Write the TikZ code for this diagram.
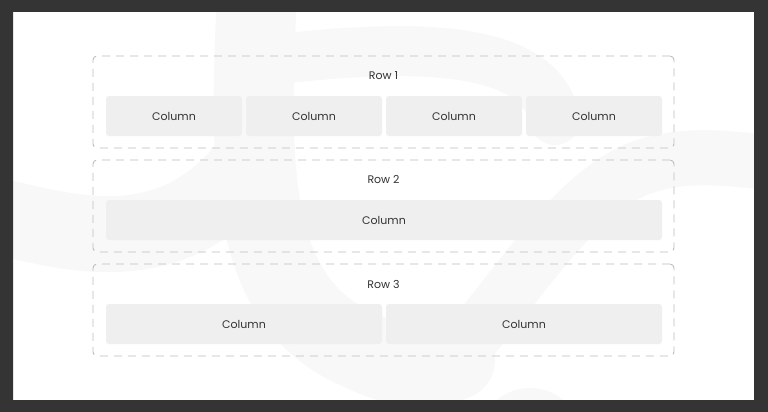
\documentclass[tikz,border=0pt]{standalone}
\usepackage{fontspec}
\setmainfont{Poppins}
\definecolor{framegray}{HTML}{343434}
\definecolor{swirlgray}{HTML}{F8F8F8}
\definecolor{dashgray}{HTML}{BDBDBD}
\definecolor{colgray}{HTML}{EFEFEF}
\definecolor{textgray}{HTML}{333333}
\tikzset{
  swirl/.style={draw=swirlgray, line cap=round},
  rowbox/.style={draw=dashgray, line width=0.9pt, dash pattern=on 8pt off 6pt,
    rounded corners=4pt, inner sep=0pt, minimum width=581pt, minimum height=92pt},
  colbox/.style={fill=colgray, rounded corners=3pt, inner sep=0pt, minimum height=40pt,
    text=textgray, font=\fontsize{11}{13}\selectfont},
  rowlabel/.style={text=textgray, font=\fontsize{11}{13}\selectfont, inner sep=1pt}
}
\begin{document}
\begin{tikzpicture}[x=1pt,y=-1pt]
\useasboundingbox (0,0) rectangle (768,412);
\fill[white] (0,0) rectangle (768,412);
% faint background swirls
\draw[swirl, line width=80pt] (258,-30) .. controls (250,150) and (240,300) .. (360,350)
     .. controls (400,370) and (430,370) .. (455,360);
\draw[swirl, line width=55pt] (440,370) .. controls (500,320) and (560,200) .. (640,168)
     .. controls (690,150) and (740,160) .. (790,165);
\draw[swirl, line width=50pt] (270,60) .. controls (400,45) and (540,40) .. (555,120);
\draw[swirl, line width=76pt] (-20,212) .. controls (60,230) and (170,270) .. (252,160);
\fill[swirlgray] (530,440) circle (52pt);
% dark frame
\fill[framegray, even odd rule] (0,0) rectangle (768,412) (13,12) rectangle (754,400);

% rows
\node[rowbox] (row1) at (383.5,102) {};
\node[rowbox] (row2) at (383.5,206) {};
\node[rowbox] (row3) at (383.5,310) {};
\node[rowlabel] (row1label) at (383.5,76) {Row 1};
\node[rowlabel] (row2label) at (383.5,180) {Row 2};
\node[rowlabel] (row3label) at (383.5,284) {Row 3};

% columns row 1
\node[colbox, minimum width=136pt] (c11) at (174,116) {Column};
\node[colbox, minimum width=136pt] (c12) at (314,116) {Column};
\node[colbox, minimum width=136pt] (c13) at (454,116) {Column};
\node[colbox, minimum width=136pt] (c14) at (594,116) {Column};
% row 2
\node[colbox, minimum width=556pt] (c21) at (384,220) {Column};
% row 3
\node[colbox, minimum width=276pt] (c31) at (244,324) {Column};
\node[colbox, minimum width=276pt] (c32) at (524,324) {Column};
\end{tikzpicture}
\end{document}
